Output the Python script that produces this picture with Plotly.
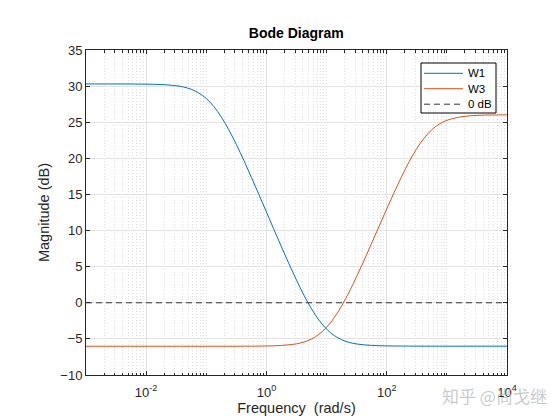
import plotly.graph_objects as go

# log10 of frequency (rad/s)
log_freq = [-3, -2.75, -2.5, -2.25, -2, -1.75,
            -1.5, -1.375, -1.25, -1.125, -1, -0.875, -0.75, -0.625,
            -0.5, -0.375, -0.25, -0.125, 0, 0.125, 0.25, 0.375,
            0.5, 0.625, 0.75, 0.875, 1, 1.125, 1.25, 1.375,
            1.5, 1.625, 1.75, 1.875, 2, 2.125, 2.25, 2.375,
            2.5, 2.625, 2.75, 2.875, 3,
            3.25, 3.5, 3.75, 4]

w1_db = [30.30, 30.30, 30.30, 30.29, 30.27, 30.22,
         30.05, 29.87, 29.56, 29.05, 28.28, 27.18, 25.72, 23.94,
         21.91, 19.70, 17.37, 14.98, 12.57, 10.14, 7.75, 5.39,
         3.14, 1.03, -0.84, -2.42, -3.64, -4.52, -5.11, -5.48,
         -5.70, -5.83, -5.90, -5.95, -5.97, -5.98, -5.99, -6.00,
         -6.00, -6.01, -6.01, -6.01, -6.01,
         -6.01, -6.01, -6.01, -6.01]

w3_db = [-6.02, -6.02, -6.02, -6.02, -6.02, -6.02,
         -6.02, -6.02, -6.02, -6.02, -6.02, -6.02, -6.02, -6.02,
         -6.02, -6.01, -6.01, -6.00, -5.98, -5.96, -5.91, -5.82,
         -5.68, -5.43, -5.01, -4.36, -3.41, -2.09, -0.44, 1.49,
         3.63, 5.90, 8.25, 10.63, 12.99, 15.31, 17.52, 19.56,
         21.36, 22.83, 23.96, 24.75, 25.26,
         25.77, 25.95, 26.00, 26.02]

zero_freq = [1e-3, 1e4]
zero_db = [0, 0]

series_names = ["W1", "W3", "0 dB"]

x_tick_vals = [1e-2, 1e0, 1e2, 1e4]
x_tick_text = ["10<sup>-2</sup>", "10<sup>0</sup>", "10<sup>2</sup>", "10<sup>4</sup>"]
y_tick_vals = [-10, -5, 0, 5, 10, 15, 20, 25, 30, 35]

freq = [10 ** v for v in log_freq]

# minor ticks: 2..9 x 10^k and the unlabeled decades
minor_vals = []
for k in range(-3, 4):
    for m in range(1, 10):
        v = m * 10 ** k
        if m == 1 and k % 2 == 0:
            continue
        minor_vals.append(v)

FONT = "Liberation Sans, Arial, sans-serif"
AX = "#262626"
styles = [dict(color="#0072BD", width=1),
          dict(color="#D95319", width=1),
          dict(color="#333333", width=1, dash="6px,4px")]

fig = go.Figure()
fig.add_trace(go.Scatter(x=freq, y=w1_db, mode="lines", name=series_names[0],
                         line=dict(shape="spline", **styles[0]), showlegend=False))
fig.add_trace(go.Scatter(x=freq, y=w3_db, mode="lines", name=series_names[1],
                         line=dict(shape="spline", **styles[1]), showlegend=False))
fig.add_trace(go.Scatter(x=zero_freq, y=zero_db, mode="lines", name=series_names[2],
                         line=styles[2], showlegend=False))

fig.update_layout(
    width=560, height=420,
    paper_bgcolor="white", plot_bgcolor="white",
    margin=dict(l=86, r=53, t=50, b=45),
    font=dict(family=FONT, size=13, color=AX),
    title=dict(text="<b>Bode Diagram</b>", x=0.529, xanchor="center",
               y=1 - 33 / 420, yanchor="middle", yref="container",
               font=dict(size=14, color="black", family=FONT)),
    showlegend=False,
)

fig.update_xaxes(
    type="log", range=[-3, 4], automargin=False,
    tickmode="array", tickvals=x_tick_vals, ticktext=x_tick_text,
    ticks="inside", ticklen=4, tickcolor=AX, tickwidth=1,
    showline=True, linecolor=AX, linewidth=1, mirror="ticks",
    showgrid=True, gridcolor="#e3e3e3", gridwidth=1,
    zeroline=False, ticklabelstandoff=5,
    tickfont=dict(size=13, color=AX),
    minor=dict(tickmode="array", tickvals=minor_vals, ticks="inside",
               ticklen=2.5, tickcolor=AX, showgrid=True,
               gridcolor="#dedede", griddash="1px,2px", gridwidth=1),
    title=dict(text="Frequency  (rad/s)", standoff=3,
               font=dict(size=14.5, color=AX)),
)

fig.update_yaxes(
    range=[-10, 35], tickmode="array", tickvals=y_tick_vals, automargin=False,
    ticks="inside", ticklen=4, tickcolor=AX, tickwidth=1,
    showline=True, linecolor=AX, linewidth=1, mirror="ticks",
    showgrid=True, gridcolor="#e3e3e3", gridwidth=1,
    zeroline=False,
    tickfont=dict(size=13, color=AX),
    title=dict(text="Magnitude (dB)", standoff=7,
               font=dict(size=14.5, color=AX)),
)

# MATLAB-style compact legend box (paper coordinates)
PL, PW, PB, PH = 86, 421, 375, 325
def px(xp):
    return (xp - PL) / PW
def py(yp):
    return (PB - yp) / PH

fig.add_shape(type="rect", xref="paper", yref="paper",
              x0=px(421), x1=px(496), y0=py(113), y1=py(63),
              line=dict(color="black", width=1), fillcolor="white", layer="above")
entry_y = [73.3, 88.7, 104.2]
for name, st, ey in zip(series_names, styles, entry_y):
    fig.add_shape(type="line", xref="paper", yref="paper",
                  x0=px(424), x1=px(463), y0=py(ey), y1=py(ey),
                  line=st, layer="above")
    fig.add_annotation(text=name, xref="paper", yref="paper",
                       x=px(466), y=py(ey), xanchor="left", yanchor="middle",
                       showarrow=False,
                       font=dict(size=11.5, color="black", family=FONT))

fig.add_annotation(text="知乎 @尚戈继", xref="paper", yref="paper",
                   x=px(494), y=py(395),
                   xanchor="center", yanchor="middle", showarrow=False,
                   font=dict(family="Noto Sans CJK SC", size=17,
                             color="rgba(185,185,185,0.75)"))

fig.write_html("out.html",
               config={"displayModeBar": False},
               post_script="document.body.style.margin='0px';")
